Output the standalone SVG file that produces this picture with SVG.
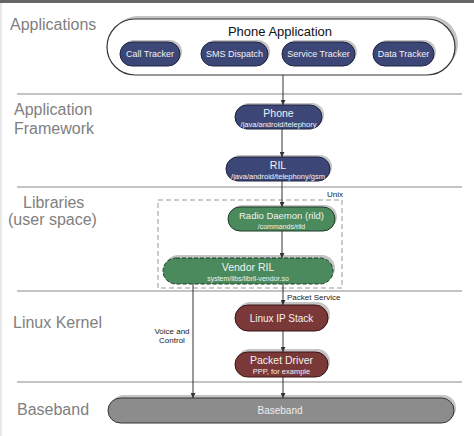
<svg xmlns="http://www.w3.org/2000/svg" width="474" height="436" viewBox="0 0 474 436">
<defs>
<style>
.lbl{font-family:"Liberation Sans",Arial,sans-serif;font-size:16px;fill:#808080}
.t{font-family:"Liberation Sans",Arial,sans-serif;fill:#f2f2f2;text-anchor:middle}
.sh{fill:#c4c4c4}
.navy{fill:#3d4777;stroke:#1e2440;stroke-width:1}
.green{fill:#4a8a5c;stroke:#1f3d28;stroke-width:1}
.maroon{fill:#7a3838;stroke:#3a1414;stroke-width:1}
.sep{stroke:#b0b0b0;stroke-width:1.5}
.ln{stroke:#333;stroke-width:1;fill:none}
.small{font-family:"Liberation Sans",Arial,sans-serif;font-size:8px;fill:#222}
</style>
<marker id="ah" viewBox="0 0 6 6" refX="6" refY="3" markerWidth="5" markerHeight="5" orient="auto"><path d="M0,0 L6,3 L0,6 z" fill="#333"/></marker>
</defs>
<rect x="0" y="0" width="474" height="436" fill="#ffffff"/>
<rect x="0" y="0" width="474" height="3" fill="#666"/>
<rect x="0" y="3" width="2" height="433" fill="#e8e8e8"/>

<g id="layers">
<text class="lbl" x="10" y="30">Applications</text>
<text class="lbl" x="14" y="115">Application</text>
<text class="lbl" x="14" y="134">Framework</text>
<text class="lbl" x="23" y="208">Libraries</text>
<text class="lbl" x="8" y="225">(user space)</text>
<text class="lbl" x="13" y="328">Linux Kernel</text>
<text class="lbl" x="17" y="415">Baseband</text>
<line class="sep" x1="17" y1="94" x2="462" y2="94"/>
<line class="sep" x1="17" y1="187" x2="462" y2="187"/>
<line class="sep" x1="17" y1="291" x2="462" y2="291"/>
<line class="sep" x1="17" y1="382" x2="462" y2="382"/>
</g>

<g id="phone-application">
<rect class="sh" x="110" y="16" width="348" height="56" rx="28"/>
<rect x="107" y="19" width="348" height="56" rx="28" fill="#fff" stroke="#333" stroke-width="1.2"/>
<text class="t" x="280" y="36" style="font-size:13px;fill:#111">Phone Application</text>
</g>
<g id="call-tracker">
<rect class="sh" x="122" y="40" width="60" height="24" rx="12"/>
<rect class="navy" x="120" y="42" width="60" height="24" rx="12"/>
<text class="t" x="150" y="57" style="font-size:9px">Call Tracker</text>
</g>
<g id="sms-dispatch">
<rect class="sh" x="203" y="40" width="67" height="24" rx="12"/>
<rect class="navy" x="201" y="42" width="67" height="24" rx="12"/>
<text class="t" x="234.5" y="57" style="font-size:9px">SMS Dispatch</text>
</g>
<g id="service-tracker">
<rect class="sh" x="284" y="40" width="73" height="24" rx="12"/>
<rect class="navy" x="282" y="42" width="73" height="24" rx="12"/>
<text class="t" x="318.5" y="57" style="font-size:9px">Service Tracker</text>
</g>
<g id="data-tracker">
<rect class="sh" x="375" y="40" width="61" height="24" rx="12"/>
<rect class="navy" x="373" y="42" width="61" height="24" rx="12"/>
<text class="t" x="403.5" y="57" style="font-size:9px">Data Tracker</text>
</g>

<g id="phone">
<rect class="sh" x="237" y="103" width="87" height="24" rx="12"/>
<rect class="navy" x="235" y="105" width="87" height="24" rx="12"/>
<text class="t" x="278.5" y="117" style="font-size:10.5px">Phone</text>
<text class="t" x="278.5" y="126.5" style="font-size:7.5px">/java/android/telephory</text>
</g>
<g id="ril">
<rect class="sh" x="228" y="155" width="104" height="24" rx="12"/>
<rect class="navy" x="226" y="157" width="104" height="24" rx="12"/>
<text class="t" x="278" y="169" style="font-size:10.5px">RIL</text>
<text class="t" x="278" y="178.5" style="font-size:7.5px">/java/android/telephony/gsm</text>
</g>

<g id="unix">
<rect x="158" y="200" width="184" height="88" fill="none" stroke="#999" stroke-width="1" stroke-dasharray="5,3"/>
<text class="small" x="327" y="197">Unix</text>
</g>
<g id="radio-daemon">
<rect class="sh" x="230" y="205" width="107" height="24" rx="12"/>
<rect class="green" x="228" y="207" width="107" height="24" rx="12"/>
<text class="t" x="281.5" y="219" style="font-size:9.5px">Radio Daemon (rild)</text>
<text class="t" x="281.5" y="228.5" style="font-size:7px">/commands/rild</text>
</g>
<g id="vendor-ril">
<rect class="sh" x="165" y="255" width="170" height="26" rx="13"/>
<rect class="green" x="163" y="258" width="170" height="26" rx="13" stroke-dasharray="4,2"/>
<text class="t" x="248" y="271" style="font-size:10.5px">Vendor RIL</text>
<text class="t" x="248" y="280.5" style="font-size:7px">system/libs/libril-vendor.so</text>
</g>

<g id="linux-ip-stack">
<rect class="sh" x="237" y="302" width="93" height="26" rx="13"/>
<rect class="maroon" x="235" y="305" width="93" height="26" rx="13"/>
<text class="t" x="281.5" y="321.5" style="font-size:10px">Linux IP Stack</text>
</g>
<g id="packet-driver">
<rect class="sh" x="237" y="349" width="93" height="25" rx="12.5"/>
<rect class="maroon" x="235" y="352" width="93" height="25" rx="12.5"/>
<text class="t" x="281.5" y="364" style="font-size:10.5px">Packet Driver</text>
<text class="t" x="281.5" y="373.5" style="font-size:7.5px">PPP, for example</text>
</g>

<g id="baseband">
<rect class="sh" x="111" y="395" width="345" height="26" rx="13"/>
<rect x="108" y="398" width="346" height="25" rx="12.5" fill="#8c8c8c" stroke="#333" stroke-width="1"/>
<text class="t" x="280" y="413.5" style="font-size:10px;fill:#eee">Baseband</text>
</g>

<g id="connectors">
<line class="ln" x1="283" y1="75" x2="283" y2="105" marker-end="url(#ah)"/>
<line class="ln" x1="282" y1="129" x2="282" y2="157" marker-end="url(#ah)"/>
<line class="ln" x1="282" y1="181" x2="282" y2="207" marker-end="url(#ah)"/>
<line class="ln" x1="282" y1="231" x2="282" y2="258" marker-end="url(#ah)"/>
<line class="ln" x1="283" y1="284" x2="283" y2="305" marker-end="url(#ah)"/>
<line class="ln" x1="283" y1="331" x2="283" y2="352" marker-end="url(#ah)"/>
<line class="ln" x1="283" y1="377" x2="283" y2="398" marker-end="url(#ah)"/>
<line class="ln" x1="193" y1="284" x2="193" y2="398" marker-end="url(#ah)"/>
<text class="small" x="287" y="300">Packet Service</text>
<text class="small" x="172" y="334" text-anchor="middle">Voice and</text>
<text class="small" x="172" y="343" text-anchor="middle">Control</text>
</g>
</svg>
